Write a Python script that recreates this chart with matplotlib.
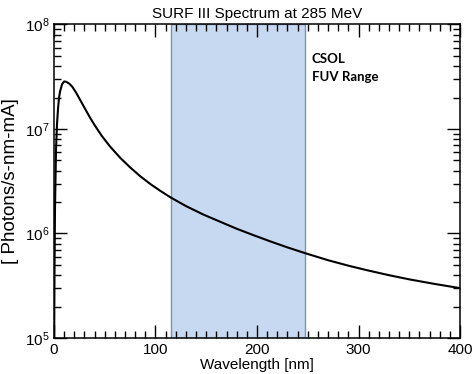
import matplotlib
matplotlib.use('Agg')
import matplotlib.pyplot as plt
from matplotlib.ticker import MultipleLocator, LogLocator, NullFormatter

plt.rcParams['font.family'] = ['Liberation Sans', 'DejaVu Sans']
plt.rcParams['mathtext.fontset'] = 'custom'
plt.rcParams['mathtext.rm'] = 'Liberation Sans'

# SURF III spectrum
wavelength = [0.2, 0.5, 1, 2, 3, 4, 5, 6, 8, 10, 12, 15, 18, 22, 26, 30, 35, 40,
              47, 55, 65, 75, 85, 95, 105, 115, 130, 147, 165, 180, 196, 213,
              230, 247, 270, 290, 308, 330, 350, 375, 400]
photons = [1.0e5, 4.0e5, 1.78e6, 6.3e6, 1.12e7, 1.58e7, 2.0e7, 2.29e7, 2.69e7,
           2.85e7, 2.83e7, 2.72e7, 2.54e7, 2.21e7, 1.88e7, 1.60e7, 1.31e7,
           1.09e7, 8.61e6, 6.84e6, 5.33e6, 4.29e6, 3.53e6, 2.97e6, 2.55e6,
           2.21e6, 1.83e6, 1.52e6, 1.28e6, 1.11e6, 9.68e5, 8.41e5, 7.36e5,
           6.50e5, 5.55e5, 4.92e5, 4.46e5, 3.99e5, 3.64e5, 3.29e5, 3.00e5]

# CSOL FUV band
band = [115, 247]

fig = plt.figure(figsize=(4.74, 3.74), dpi=100)
ax = fig.add_axes([0.1139, 0.0963, 0.8566, 0.8382])

ax.axvspan(band[0], band[1], facecolor='#c6d9f0', edgecolor='#8090b4', linewidth=1.0, zorder=0)
ax.plot(wavelength, photons, color='black', linewidth=1.5, zorder=3)
ax.set_axisbelow(False)

ax.set_yscale('log')
ax.set_xlim(0, 400)
ax.set_ylim(1e5, 1e8)

ax.xaxis.set_major_locator(MultipleLocator(100))
ax.xaxis.set_minor_locator(MultipleLocator(10))
ax.yaxis.set_major_locator(LogLocator(base=10, numticks=10))
ax.yaxis.set_minor_locator(LogLocator(base=10, subs=range(2, 10), numticks=10))
ax.yaxis.set_minor_formatter(NullFormatter())

ax.tick_params(which='both', direction='in', top=True, right=True,
               color='black', width=1.0, labelsize=11)
ax.tick_params(which='major', length=9.5)
ax.tick_params(which='minor', length=5)
for s in ax.spines.values():
    s.set_linewidth(1.1)
    s.set_zorder(5)

ax.set_title('SURF III Spectrum at 285 MeV', fontsize=11, pad=5)
ax.set_xlabel('Wavelength [nm]', fontsize=11, labelpad=1)
ax.set_ylabel('[ Photons/s-nm-mA]', fontsize=13.5, labelpad=4)

ax.text(254, 3.87e7, 'CSOL\nFUV Range', fontsize=9.5, fontweight='bold',
        family=['Lato', 'DejaVu Sans'], va='center', ha='left', linespacing=1.6, zorder=4)

fig.savefig('out.png', dpi=100)
